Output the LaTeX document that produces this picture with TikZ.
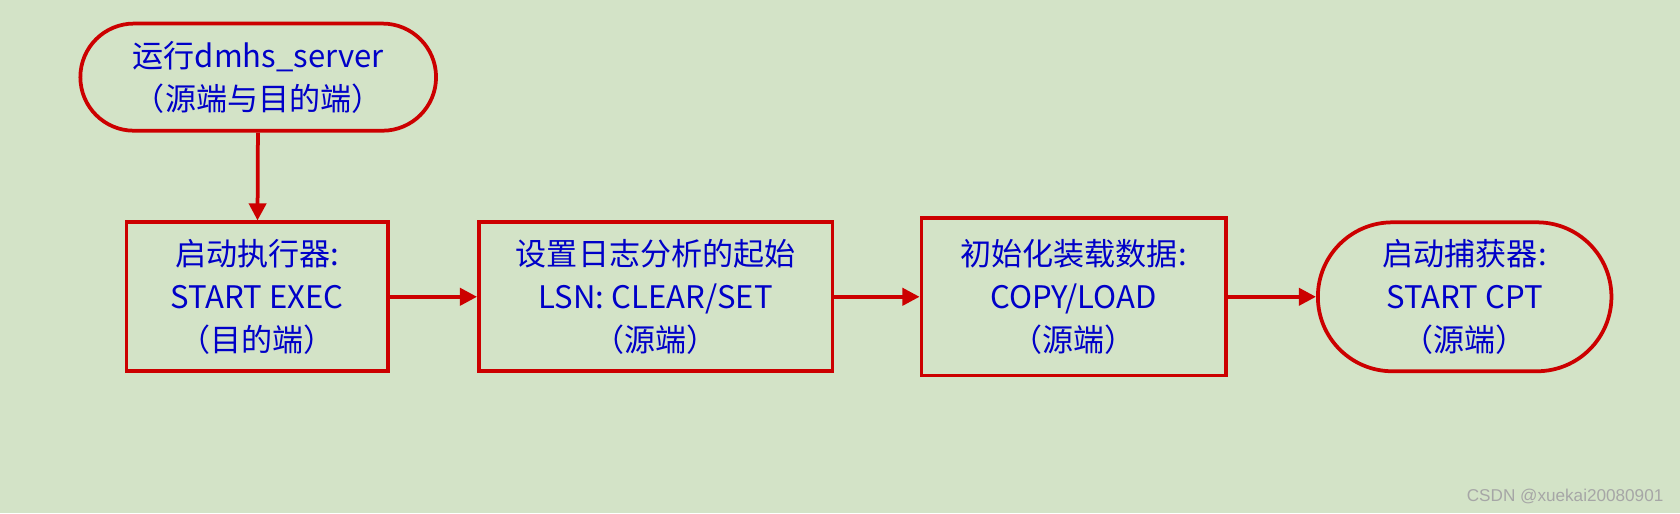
\documentclass[tikz,border=0pt]{standalone}
\usetikzlibrary{shapes.misc,arrows.meta}
\usepackage{fontspec}
\setmainfont{Noto Sans CJK SC}
\newfontfamily\wm{Liberation Sans}
\definecolor{bg}{RGB}{211,227,199}
\definecolor{rd}{RGB}{204,0,0}
\definecolor{bl}{RGB}{0,0,200}
\begin{document}
\begin{tikzpicture}[x=1pt,y=-1pt,
  base/.style={draw=rd,line width=3.5pt,text=bl,align=center,font=\fontsize{29}{40}\selectfont,inner sep=0pt},
  boxa/.style={base,rectangle},
  term/.style={base,rounded rectangle},
  arr/.style={draw=rd,line width=3.5pt,-{Triangle[length=16pt,width=16pt]}}]
\fill[bg] (0,0) rectangle (1568,479);
\useasboundingbox (0,0) rectangle (1568,479);
\node[term,minimum width=332pt,minimum height=100pt] (s) at (241,72) {运行dmhs\_server\\（源端与目的端）};
\node[boxa,minimum width=244pt,minimum height=139pt] (b1) at (240,277) {启动执行器:\\START EXEC\\（目的端）};
\node[boxa,minimum width=330pt,minimum height=139pt] (b2) at (612,277) {设置日志分析的起始\\LSN: CLEAR/SET\\（源端）};
\node[boxa,minimum width=284pt,minimum height=147pt] (b3) at (1002,277) {初始化装载数据:\\COPY/LOAD\\（源端）};
\node[term,minimum width=274pt,minimum height=139pt] (e) at (1367,277) {启动捕获器:\\START CPT\\（源端）};
\draw[arr] (s) -- (b1);
\draw[arr] (b1) -- (b2);
\draw[arr] (b2) -- (b3);
\draw[arr] (b3) -- (e);
\node[text=gray!70,font=\wm\fontsize{16}{18}\selectfont,anchor=south east] (w) at (1556,474) {CSDN @xuekai20080901};
\end{tikzpicture}
\end{document}
